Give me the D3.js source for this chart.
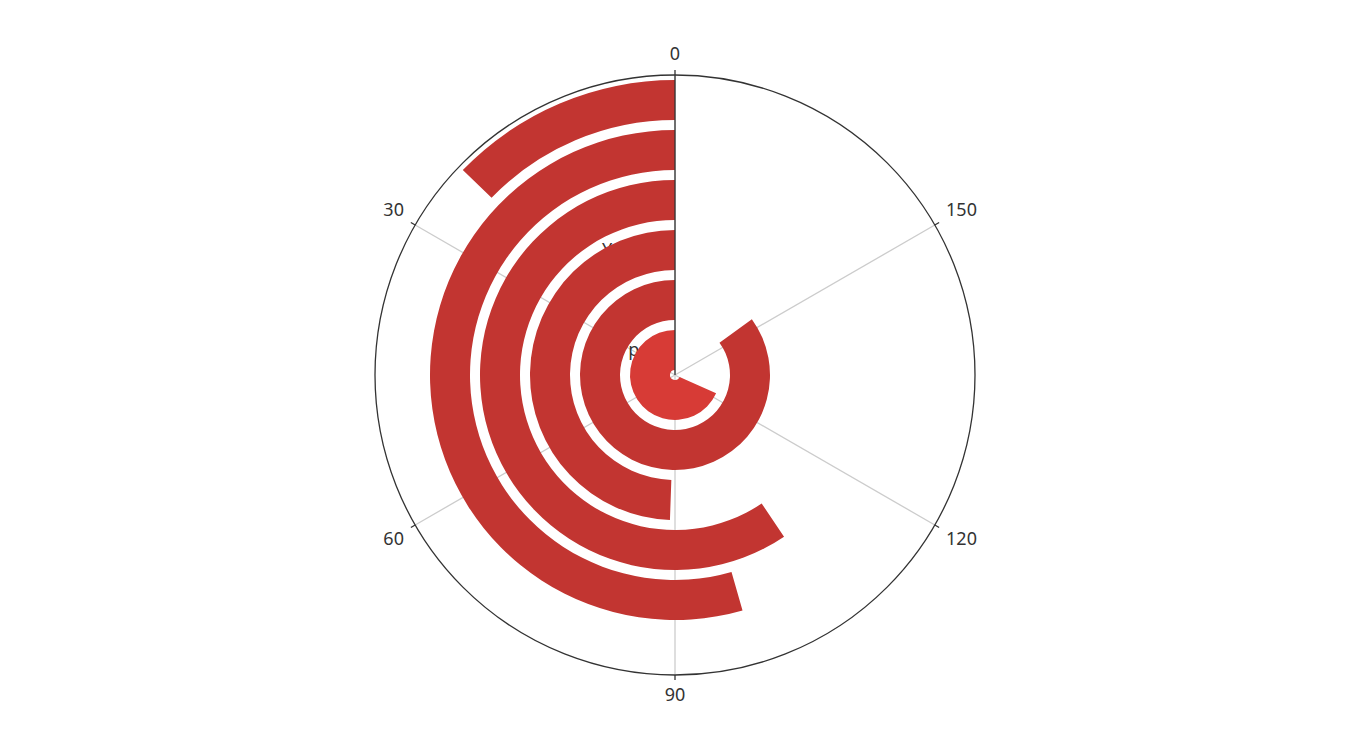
<!DOCTYPE html>
<html>
<head>
<meta charset="utf-8">
<script src="https://cdn.jsdelivr.net/npm/d3@7/dist/d3.min.js"></script>
<style>
  html, body { margin: 0; padding: 0; background: #ffffff; }
  svg { display: block; }
  text { font-family: "Microsoft YaHei", "Noto Sans", "DejaVu Sans", sans-serif; }
</style>
</head>
<body>
<svg id="chart" width="1350" height="750"></svg>
<script>
// ---- data ----
const categories = ["pear", "plum", "Yogurts", "melon", "lemon", "cherry"]; // radius axis (inner -> outer)
const values = [123, 153, 89, 107, 98, 23];                                    // angle values
const angleTicks = [0, 30, 60, 90, 120, 150];
const angleMax = 180;
const highlightIndex = 0; // innermost bar shown in emphasis colour

// ---- layout ----
const cx = 675, cy = 375, R = 300;
const svg = d3.select("#chart");
const g = svg.append("g").attr("transform", `translate(${cx},${cy})`);

// angle: 0 at top, counter-clockwise
const angle = d3.scaleLinear().domain([0, angleMax]).range([0, -2 * Math.PI]);
const radius = d3.scaleBand().domain(categories).range([0, R]).paddingInner(0.2).paddingOuter(0.1);

// split lines
g.append("g").selectAll("line").data(angleTicks).join("line")
  .attr("x1", 0).attr("y1", 0)
  .attr("x2", d => R * Math.sin(angle(d)))
  .attr("y2", d => -R * Math.cos(angle(d)))
  .attr("stroke", "#cccccc").attr("stroke-width", 1.3);

// radius axis labels (drawn beneath the bars)
g.append("g").selectAll("text").data(categories).join("text")
  .attr("x", -8)
  .attr("y", d => -(radius(d) + radius.bandwidth() / 2))
  .attr("dy", "0.35em")
  .attr("text-anchor", "end")
  .attr("font-size", 18)
  .attr("fill", "#333333")
  .text(d => d);

// bars
const arc = d3.arc();
g.append("g").selectAll("path").data(categories).join("path")
  .attr("d", (d, i) => arc({
    innerRadius: radius(d),
    outerRadius: radius(d) + radius.bandwidth(),
    startAngle: 0,
    endAngle: angle(values[i])
  }))
  .attr("fill", (d, i) => i === highlightIndex ? "#d73b36" : "#c23531");

// outer circle
g.append("circle").attr("r", R).attr("fill", "none").attr("stroke", "#333333").attr("stroke-width", 1.3);

// radius axis line
g.append("line").attr("x1", 0).attr("y1", 0).attr("x2", 0).attr("y2", -R)
  .attr("stroke", "#333333").attr("stroke-width", 1.3);

// angle ticks
g.append("g").selectAll("line").data(angleTicks).join("line")
  .attr("x1", d => R * Math.sin(angle(d)))
  .attr("y1", d => -R * Math.cos(angle(d)))
  .attr("x2", d => (R + 5) * Math.sin(angle(d)))
  .attr("y2", d => -(R + 5) * Math.cos(angle(d)))
  .attr("stroke", "#333333").attr("stroke-width", 1.3);

// angle labels
const LD = 313;
g.append("g").selectAll("text").data(angleTicks).join("text")
  .each(function(d) {
    const a = angle(d);
    const sx = Math.sin(a), cyv = -Math.cos(a);
    const x = LD * sx, y = LD * cyv;
    const anchor = Math.abs(sx) < 0.01 ? "middle" : (sx < 0 ? "end" : "start");
    const t = d3.select(this)
      .attr("x", x)
      .attr("text-anchor", anchor)
      .attr("font-size", 18)
      .attr("fill", "#333333")
      .text(d);
    if (cyv < -0.01) t.attr("y", y - 2.5);      // upper half: bottom-aligned
    else t.attr("y", y + 13);                    // lower half: top-aligned
  });
</script>
</body>
</html>
